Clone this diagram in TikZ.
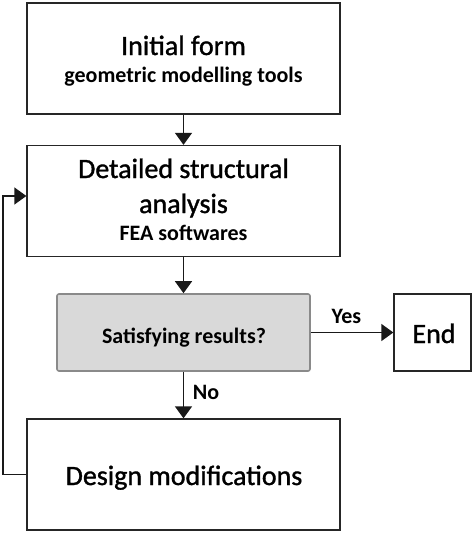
\documentclass[tikz,border=0pt]{standalone}
\usepackage{fontspec}
\setmainfont{Carlito}
\newfontface\bigface{Carlito}[RawFeature={embolden=1.2}]
\usetikzlibrary{arrows.meta}
\definecolor{decfill}{HTML}{D9D9D9}
\definecolor{decdraw}{HTML}{8A8A8A}
\tikzset{
  box/.style={draw=black!85, line width=1.3pt, fill=white, inner sep=0pt},
  decbox/.style={draw=decdraw, line width=1.6pt, fill=decfill, rounded corners=2pt, inner sep=0pt},
  bigtxt/.style={font=\bigface\fontsize{28}{34}\selectfont, anchor=base, inner sep=0pt},
  smalltxt/.style={font=\fontsize{22}{27}\selectfont\bfseries, anchor=base, inner sep=0pt},
  conn/.style={line width=1.3pt, draw=black!90, -{Triangle[length=12pt,width=17pt]}},
}
\begin{document}
\begin{tikzpicture}[x=1pt,y=-1pt]
\useasboundingbox (0,0) rectangle (474,536);
% boxes
\node[box, minimum width=313pt, minimum height=111pt] (init) at (183.5,58.5) {};
\node[box, minimum width=313pt, minimum height=111pt] (ana) at (183.5,201) {};
\node[decbox, minimum width=253pt, minimum height=77pt] (dec) at (183.5,332.5) {};
\node[box, minimum width=77pt, minimum height=77pt] (fin) at (432.5,332.5) {};
\node[box, minimum width=313pt, minimum height=111pt] (mod) at (183.5,474.5) {};
% texts
\node[bigtxt] (t1) at (183.5,55) {Initial form};
\node[smalltxt] (t2) at (183.5,82) {geometric modelling tools};
\node[bigtxt] (t3) at (183.5,178) {Detailed structural};
\node[bigtxt] (t4) at (183.5,213) {analysis};
\node[smalltxt] (t5) at (183.5,240) {FEA softwares};
\node[smalltxt] (t6) at (184,343) {Satisfying results?};
\node[bigtxt] (t7) at (434,343) {End};
\node[bigtxt] (t8) at (184,485) {Design modifications};
% connectors
\draw[conn] (init.south) -- (ana.north);
\draw[conn] (ana.south) -- (dec.north);
\draw[conn] (dec.east) -- (fin.west);
\node[smalltxt] (yeslbl) at (346.5,323) {Yes};
\draw[conn] (dec.south) -- (mod.north);
\node[smalltxt] (nolbl) at (206,399) {No};
\coordinate (fb1) at (3,474.5);
\coordinate (fb2) at (3,196);
\draw[conn] (mod.west) -- (fb1) -- (fb2) -- (fb2 -| ana.west);
\end{tikzpicture}
\end{document}
